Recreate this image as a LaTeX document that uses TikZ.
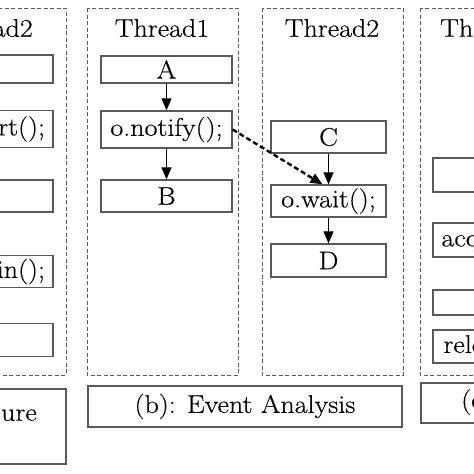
\documentclass[tikz,border=0pt]{standalone}
\usepackage{fontspec}
\setmainfont{Latin Modern Roman}[FakeStretch=1.1, FakeBold=0.4]
\usetikzlibrary{arrows.meta}
\begin{document}
\begin{tikzpicture}[x=1pt,y=-1pt,
  panel/.style={draw=black!65, dashed, line width=1pt, dash pattern=on 4pt off 2.5pt},
  box/.style={draw=black!65, line width=1.3pt, inner sep=0pt, font=\fontsize{25.5}{28}\selectfont},
  lbl/.style={inner sep=0pt, font=\fontsize{25.5}{28}\selectfont},
  flow/.style={-{Triangle[length=12pt,width=10pt]}, line width=0.9pt},
  sync/.style={-{Triangle[length=12pt,width=10pt]}, line width=2.4pt, dash pattern=on 5pt off 3pt}]
\useasboundingbox (0,0) rectangle (474,474);
\clip (0,0) rectangle (474,474);
% panels
\draw[panel] (-85,8) rectangle (66,375);
\draw[panel] (87,8) rectangle (238,375);
\draw[panel] (262,8) rectangle (403,375);
\draw[panel] (420,8) rectangle (571,375);
% titles
\node[lbl, anchor=east] (t0) at (33,28) {Thread2};
\node[lbl] (t1) at (162,28) {Thread1};
\node[lbl] (t2) at (332,28) {Thread2};
\node[lbl, anchor=west] (t3) at (440,28) {Thread3};
% panel a boxes
\node[box, minimum width=131pt, minimum height=28pt] (a1) at (-12.5,69) {};
\node[box, minimum width=131pt, minimum height=37pt, text width=115pt, align=right] (a2) at (-12.5,129) {t.start();};
\node[box, minimum width=131pt, minimum height=32pt] (a3) at (-12.5,196) {};
\node[box, minimum width=131pt, minimum height=32pt, text width=115pt, align=right] (a4) at (-12.5,271.5) {t.join();};
\node[box, minimum width=131pt, minimum height=33pt] (a5) at (-12.5,340) {};
% Thread1
\node[box, minimum width=131pt, minimum height=27pt] (A) at (166.5,69.5) {A};
\node[box, minimum width=131pt, minimum height=37pt] (N) at (166.5,129.5) {o.notify();};
\node[box, minimum width=131pt, minimum height=32pt] (B) at (166.5,196) {B};
% Thread2
\node[box, minimum width=115pt, minimum height=32pt] (C) at (328.5,137) {C};
\node[box, minimum width=115pt, minimum height=32pt] (W) at (328.5,201) {o.wait();};
\node[box, minimum width=115pt, minimum height=33pt] (D) at (328.5,260.5) {D};
% panel c boxes
\node[box, minimum width=131pt, minimum height=34pt] (c1) at (498.5,175) {};
\node[box, minimum width=131pt, minimum height=34pt, text width=114pt, align=left] (c2) at (498.5,240) {acquire();};
\node[box, minimum width=131pt, minimum height=25pt] (c3) at (498.5,302.5) {};
\node[box, minimum width=131pt, minimum height=33pt, text width=110pt, align=left] (c4) at (498.5,346.5) {release();};
% arrows
\draw[flow] (A) -- (N);
\draw[flow] (N) -- (B);
\draw[flow] (C) -- (W);
\draw[flow] (W) -- (D);
\draw[sync] (N.east) -- ([xshift=-6pt]W.north);
% captions
\node[box, minimum width=151pt, minimum height=75pt] (capa) at (-9.5,426.5) {};
\node[lbl, anchor=east] (capatext) at (37,412) {Structure};
\node[box, minimum width=314pt, minimum height=41pt] (capb) at (245,406.5) {(b): Event Analysis};
\node[box, minimum width=131pt, minimum height=40pt] (capc) at (486.5,403) {};
\node[lbl, anchor=west] (capctext) at (461,402) {(c): Lock};
\end{tikzpicture}
\end{document}
